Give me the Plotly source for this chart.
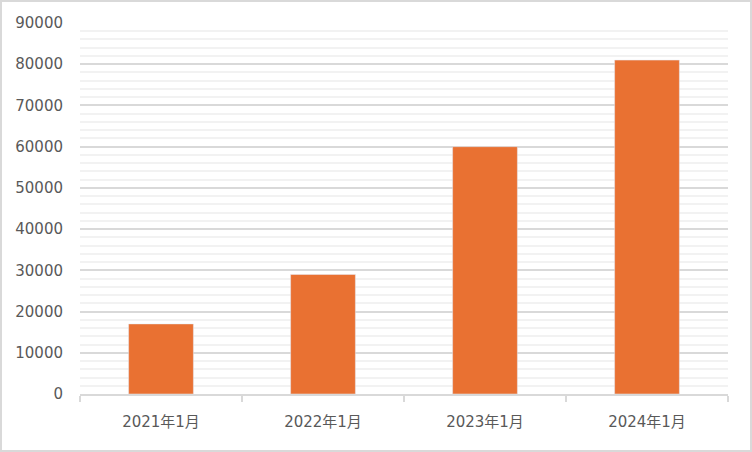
import plotly.graph_objects as go

months = ["2021年1月", "2022年1月", "2023年1月", "2024年1月"]
counts = [17000, 29000, 60000, 81000]

W, H = 752, 452
L, R, T, B = 80, 24, 23, 58
pw, ph = W - L - R, H - T - B

fig = go.Figure(
    data=[go.Bar(x=months, y=counts, marker_color="#E97132", width=0.4)]
)

fig.update_layout(
    width=W, height=H,
    margin=dict(l=L, r=R, t=T, b=B),
    plot_bgcolor="white", paper_bgcolor="white",
    font=dict(family="DejaVu Sans, Noto Sans CJK JP", size=15, color="#595959"),
    showlegend=False,
)
fig.update_xaxes(
    showline=True, linecolor="#D9D9D9", linewidth=2,
    ticks="outside", tickson="boundaries", ticklen=6, tickcolor="#D9D9D9", tickwidth=2,
    showgrid=False, ticklabelstandoff=13,
)
fig.update_yaxes(
    range=[0, 90000], dtick=10000, tickformat="d",
    showgrid=True, gridcolor="#D9D9D9", gridwidth=2,
    minor=dict(dtick=2000, showgrid=True, gridcolor="#F2F2F2", gridwidth=2),
    zeroline=False, showline=False, ticklabelstandoff=16,
)

# outer chart border
fig.add_shape(
    type="rect", xref="paper", yref="paper",
    x0=(1 - L) / pw, x1=(W - 1 - L) / pw,
    y0=(T + ph - (H - 1)) / ph, y1=(T + ph - 1) / ph,
    line=dict(color="#D9D9D9", width=2), fillcolor="rgba(0,0,0,0)",
)

fig.write_html("out.html", config={"displayModeBar": False},
               post_script="document.body.style.margin='0';")
